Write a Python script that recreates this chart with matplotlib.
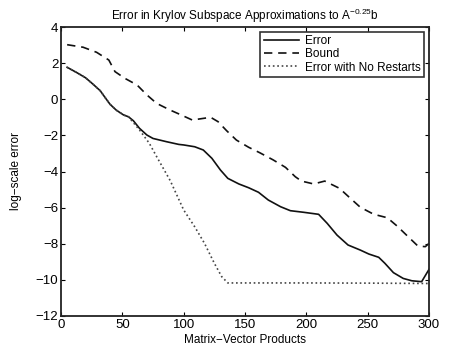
import matplotlib
matplotlib.use('Agg')
import matplotlib.pyplot as plt

plt.rcParams['font.family'] = ['Liberation Sans', 'DejaVu Sans']
plt.rcParams['mathtext.fontset'] = 'custom'
plt.rcParams['mathtext.rm'] = 'Liberation Sans'

# values
errX = [5, 13, 20, 26, 32, 36, 40, 45, 51, 55, 59, 64, 70, 75, 86, 96, 100, 109, 116, 123,
        130, 136, 145, 153, 161, 169, 179, 187, 198, 210, 217, 225, 234, 244, 251, 259,
        264, 271, 279, 286, 294, 300]
errY = [1.77, 1.47, 1.19, 0.84, 0.47, 0.09, -0.28, -0.6, -0.87, -0.97, -1.19, -1.61, -1.98,
        -2.17, -2.35, -2.5, -2.53, -2.63, -2.81, -3.27, -3.92, -4.38, -4.69, -4.9, -5.15,
        -5.58, -5.95, -6.17, -6.26, -6.37, -6.87, -7.52, -8.07, -8.35, -8.57, -8.75, -9.08,
        -9.6, -9.92, -10.05, -10.1, -9.42]

boundX = [5, 18, 29, 39, 44, 52, 62, 70, 78, 89, 97, 107, 113, 122, 128, 135, 143, 153,
          162, 173, 183, 191, 196, 206, 215, 227, 236, 244, 255, 266, 274, 283, 291, 297, 300]
boundY = [3.02, 2.88, 2.6, 2.17, 1.53, 1.16, 0.79, 0.24, -0.23, -0.6, -0.84, -1.15, -1.09,
          -1.0, -1.24, -1.74, -2.26, -2.66, -2.96, -3.36, -3.77, -4.29, -4.53, -4.69, -4.53,
          -4.93, -5.49, -5.98, -6.37, -6.56, -7.02, -7.61, -8.13, -8.16, -7.98]

noRestartX = [5, 13, 20, 26, 32, 36, 40, 45, 51, 55, 64, 72, 78, 89, 100, 109, 117, 125,
              131, 136, 200, 250, 300]
noRestartY = [1.77, 1.47, 1.19, 0.84, 0.47, 0.09, -0.28, -0.6, -0.87, -0.97, -1.7, -2.44,
              -3.18, -4.5, -6.13, -7.06, -7.98, -9.08, -9.82, -10.17, -10.17, -10.18, -10.2]

fig = plt.figure(figsize=(4.74, 3.55), dpi=100)
ax = fig.add_axes([61/474, 1-316/355, 368/474, 289/355])

ax.plot(errX, errY, '-', color='#111111', lw=1.2, label='Error')
ax.plot(boundX, boundY, '--', color='#111111', lw=1.2, dashes=(5, 3.5), label='Bound')
ax.plot(noRestartX, noRestartY, ':', color='#444444', lw=1.2, label='Error with No Restarts')

ax.set_xlim(0, 300)
ax.set_ylim(-12, 4)
ax.set_xticks(range(0, 301, 50))
ax.set_yticks(range(-12, 5, 2))
ax.tick_params(direction='in', top=True, right=True, labelsize=9.5, length=3, pad=2)
for s in ax.spines.values():
    s.set_linewidth(1.3)
    s.set_color('#222222')

ax.set_title('Error in Krylov Subspace Approximations to A$^{-0.25}$b', fontsize=8.5, pad=5)
ax.set_xlabel('Matrix\u2212Vector Products', fontsize=8.5, labelpad=2)
ax.set_ylabel('log\u2212scale error', fontsize=8.5, labelpad=10)

leg = ax.legend(loc='upper right', fontsize=8.5, frameon=True, fancybox=False,
                borderaxespad=0.4, handlelength=3, handletextpad=0.5, labelspacing=0.1,
                borderpad=0.3)
leg.get_frame().set_edgecolor('black')
leg.get_frame().set_linewidth(1.2)

fig.savefig('out.png', dpi=100)
